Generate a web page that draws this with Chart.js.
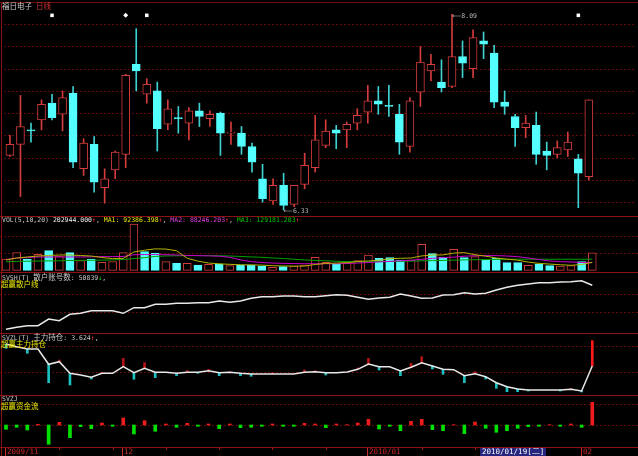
<!DOCTYPE html>
<html>
<head>
<meta charset="utf-8">
<title>福日电子 日线</title>
<script src="https://cdn.jsdelivr.net/npm/chart.js@4.4.1/dist/chart.umd.min.js"></script>
<style>
  html, body { margin: 0; padding: 0; background: #000; }
  #wrap { position: relative; width: 638px; height: 456px; overflow: hidden; background: #000; }
  #wrap canvas { position: absolute; left: 0; }
  .t { position: absolute; white-space: nowrap; font-family: "DejaVu Sans Mono", monospace; font-size: 6.5px; line-height: 8px; color: #c8c8c8; }
  .cn { font-family: "Noto Sans CJK SC", sans-serif; font-size: 7.5px; }
  .wh { color: #ececec; }
  .yl { color: #e6e600; }
  .mg { color: #e040e0; }
  .gr { color: #00c800; }
  .up { color: #ff3030; }
  .dn { color: #00ee00; }
  .sep { position: absolute; left: 0; width: 638px; height: 1px; background: #8a1212; }
  .date { color: #c82828; font-size: 7.5px; border-left: 1px solid #c82828; padding-left: 1px; }
  .cur { color: #fff; font-size: 7.5px; background: #25257e; padding: 0 2px; }
  .note { color: #b4b4b4; }
</style>
</head>
<body>
<div id="wrap">
  <canvas id="cMain" width="638" height="217" style="top:0"></canvas>
  <canvas id="cVol" width="638" height="56" style="top:217px"></canvas>
  <canvas id="cSvsh" width="638" height="60" style="top:273px"></canvas>
  <canvas id="cSvzl" width="638" height="62" style="top:333px"></canvas>
  <canvas id="cSvzj" width="638" height="61" style="top:395px"></canvas>

  <div class="sep" style="top:2px;background:#6e0c0c"></div>
  <div class="sep" style="top:216px"></div>
  <div class="sep" style="top:272px"></div>
  <div class="sep" style="top:333px"></div>
  <div class="sep" style="top:395px"></div>
  <div class="sep" style="top:447px"></div>
  <div style="position:absolute;left:1px;top:2px;width:1px;height:454px;background:#8a1212"></div>

  <div class="t" style="left:2px;top:2px"><span class="cn">福日电子</span> <span class="cn up" style="color:#d03030">日线</span></div>
  <div class="t" id="hVol" style="left:2px;top:216px"></div>
  <div class="t" id="hSvsh" style="left:2px;top:273px"></div>
  <div class="t yl" style="left:1px;top:280px"><span class="cn">超赢散户线</span></div>
  <div class="t" id="hSvzl" style="left:2px;top:332.5px"></div>
  <div class="t yl" style="left:1px;top:340px"><span class="cn">超赢主力持仓</span></div>
  <div class="t" style="left:2px;top:394.5px">SVZJ</div>
  <div class="t yl" style="left:1px;top:401.5px"><span class="cn">超赢资金流</span></div>
  <div class="t cur" style="left:480px;top:448px">2010/01/19[二]</div>
</div>

<script>
// ===== Data (daily, 2009/11 .. 2010/02) =====
const open  = [6.82, 6.92, 7.05, 7.14, 7.29, 7.19, 7.38, 6.70, 6.92, 6.53,
               6.69, 6.83, 7.64, 7.37, 7.40, 7.10, 7.16, 7.11, 7.22, 7.15,
               7.20, 7.02, 7.02, 6.90, 6.61, 6.41, 6.55, 6.38, 6.56, 6.71,
               6.91, 7.05, 7.05, 7.11, 7.21, 7.31, 7.27, 7.19, 6.90, 7.39,
               7.58, 7.48, 7.44, 7.71, 7.60, 7.85, 7.74, 7.30, 7.17, 7.07,
               7.09, 6.86, 6.83, 6.87, 6.79, 6.63];
const high  = [7.00, 7.36, 7.11, 7.32, 7.37, 7.40, 7.44, 6.97, 6.99, 6.70,
               6.86, 7.55, 7.96, 7.51, 7.48, 7.32, 7.26, 7.25, 7.29, 7.22,
               7.21, 7.12, 7.08, 6.93, 6.74, 6.61, 6.66, 6.55, 6.84, 7.18,
               7.14, 7.09, 7.12, 7.24, 7.45, 7.44, 7.45, 7.28, 7.34, 7.80,
               7.73, 7.68, 8.09, 7.85, 7.95, 7.93, 7.81, 7.40, 7.19, 7.18,
               7.21, 6.94, 6.95, 7.03, 6.83, 7.32];
const low   = [6.81, 6.45, 6.94, 7.05, 7.14, 7.04, 6.71, 6.64, 6.49, 6.39,
               6.61, 6.71, 7.40, 7.29, 6.86, 7.05, 7.02, 6.96, 7.08, 7.08,
               6.82, 6.92, 6.83, 6.67, 6.40, 6.38, 6.33, 6.36, 6.52, 6.67,
               6.89, 6.88, 6.89, 7.05, 7.11, 7.19, 7.17, 6.83, 6.85, 7.26,
               7.49, 7.39, 7.43, 7.52, 7.52, 7.69, 7.25, 7.19, 6.90, 6.98,
               6.74, 6.69, 6.80, 6.81, 6.35, 6.60];
const close = [6.92, 7.08, 7.04, 7.28, 7.16, 7.34, 6.76, 6.93, 6.58, 6.61,
               6.85, 7.54, 7.58, 7.46, 7.06, 7.24, 7.15, 7.22, 7.17, 7.19,
               7.02, 7.03, 6.90, 6.76, 6.43, 6.55, 6.37, 6.55, 6.73, 6.96,
               7.04, 7.02, 7.10, 7.18, 7.31, 7.28, 7.26, 6.94, 7.31, 7.66,
               7.64, 7.43, 7.71, 7.65, 7.88, 7.82, 7.30, 7.26, 7.07, 7.11,
               6.83, 6.82, 6.89, 6.94, 6.66, 7.32];

const volume = [130600, 203500, 130600, 185000, 226600, 165300, 203500, 111000, 130600, 92500,
                99400, 203500, 535200, 215000, 196500, 99400, 80900, 80900, 61300, 69400,
                72800, 53200, 61300, 61300, 49700, 34700, 41600, 49700, 61300, 150300,
                92500, 69400, 80900, 111000, 176900, 138700, 145700, 119100, 119100, 300600,
                191900, 150300, 242800, 145700, 157200, 119100, 138700, 87900, 87900, 57800,
                72800, 53200, 49700, 53200, 99400, 202944];
const volMa1 = [119000, 142000, 154000, 165000, 171000, 177000, 177000, 171000, 165000, 148000,
                135000, 138000, 212000, 232000, 248000, 245000, 226000, 139000, 106000, 84000,
                75000, 69000, 64000, 63000, 60000, 53000, 50000, 48000, 49000, 67000,
                79000, 84000, 89000, 102000, 108000, 117000, 133000, 139000, 142000, 166000,
                176000, 178000, 199000, 204000, 180000, 163000, 142000, 129000, 117000, 95000,
                80000, 72000, 64000, 58000, 66000, 92386.398];
const volMa2 = [125000, 142000, 148000, 154000, 154000, 154000, 154000, 154000, 156000, 158000,
                158000, 160000, 180000, 182000, 182000, 180000, 177000, 172000, 170000, 167000,
                163000, 150000, 120000, 100000, 90000, 84000, 80000, 78000, 76000, 76000,
                76000, 76000, 80000, 84000, 90000, 97000, 103000, 110000, 116000, 127000,
                139000, 146000, 152000, 163000, 168000, 170000, 170000, 165000, 158000, 142000,
                125000, 108000, 100000, 96000, 90000, 88246.203];
const volMa3 = [99000, 103000, 105000, 107000, 109000, 110000, 113000, 115000, 116000, 118000,
                120000, 125000, 135000, 146000, 160000, 166000, 168000, 170000, 170000, 170000,
                168000, 165000, 160000, 155000, 150000, 143000, 136000, 128000, 120000, 114000,
                110000, 105000, 100000, 98000, 98000, 100000, 102000, 104000, 106000, 110000,
                112000, 114000, 118000, 120000, 122000, 124000, 126000, 127000, 128000, 128000,
                128000, 128000, 128000, 128000, 128000, 129181.203];

const svsh = [42039, 42439, 42759, 42759, 44099, 43759, 45039, 45239, 45759, 45759,
              45759, 45239, 46359, 46359, 47039, 47039, 47239, 47239, 47359, 47359,
              47699, 47439, 47699, 48239, 48559, 48559, 48699, 48699, 48559, 48559,
              48759, 48959, 48839, 48439, 48039, 48299, 48439, 49099, 48699, 48239,
              48299, 48899, 48959, 49359, 49099, 49239, 49899, 50439, 50839, 51099,
              51359, 51359, 51499, 51559, 51759, 50839];
const svzl = [4.724, 4.589, 4.474, 4.474, 3.709, 3.839, 3.259, 3.174, 3.059, 3.259,
              3.259, 3.589, 3.289, 3.509, 3.309, 3.309, 3.259, 3.309, 3.309, 3.389,
              3.289, 3.309, 3.259, 3.224, 3.224, 3.224, 3.224, 3.224, 3.309, 3.339,
              3.289, 3.289, 3.324, 3.459, 3.724, 3.589, 3.589, 3.374, 3.559, 3.789,
              3.624, 3.459, 3.439, 3.139, 3.239, 3.089, 2.789, 2.589, 2.474, 2.424,
              2.424, 2.424, 2.424, 2.459, 2.374, 3.624];
const svzlTip = [4.509, null, 4.259, null, 2.789, 3.924, 2.674, null, 2.974, 3.31,
                 null, 4.009, 2.959, 3.789, 3.039, null, 3.139, 3.389, 3.259, 3.459,
                 3.139, 3.339, 3.139, 3.109, null, 3.289, null, null, 3.424, 3.389,
                 3.174, null, null, 3.524, 4.009, 3.424, null, 3.139, 3.759, 4.089,
                 3.474, 3.209, null, 2.789, 3.339, 2.974, 2.509, 2.339, 2.339, 2.374,
                 null, null, 2.374, 2.509, 2.324, 4.889];
const svzj = [-4.3, -2.3, -5, 0.7, -19.3, 2.7, -12.7, -1.7, -3.7, 2,
              -1.3, 7, -9, 4.3, -6.3, 1, -2.3, 1.7, -1.3, 1,
              -3.7, 1, -2.7, -2.3, -1.3, 1, -1.3, -1.3, 1.7, 1,
              -2.7, 1, 0.3, 2, 5.7, -4, -1.3, -5.7, 3.7, 5.7,
              -4.7, -5.7, 0.3, -8.7, 3, -3.3, -7.3, -5.7, -3.3, -1.7,
              -1.3, 0.3, -1.3, 1, -2.3, 22.7];

const priceTicks = [8.0, 7.8, 7.6, 7.4, 7.2, 7.0, 6.8, 6.6, 6.4];
const volTicks = [200000, 400000];
const svshTicks = [49099, 45559];
const svzlTicks = [4.639, 3.324];
const svzjTicks = [20.7, 0];

const markIdx = [4, 11, 13, 54];           // signal markers on top
const dateIdx = [0, 11, 34, 54];
const dateText = ["2009/11", "12", "2010/01", "02"];
const minorIdx = [5, 10, 15, 20, 25, 30, 39, 44, 49];

// ===== Styles =====
const RED = "#d23c3c";
const CYAN = "#54ffff";
const WICK_DN = "#3fd0d0";
const X_MIN = -0.563, X_MAX = 59.29;

const dotGrid = {
  id: "dotGrid",
  beforeDatasetsDraw(chart, args, opts) {
    const { ctx, chartArea, scales } = chart;
    ctx.save();
    ctx.strokeStyle = "#640808";
    ctx.lineWidth = 1;
    ctx.setLineDash([2, 2]);
    for (const v of opts.values || []) {
      const y = Math.round(scales.y.getPixelForValue(v)) + 0.5;
      ctx.beginPath();
      ctx.moveTo(chartArea.left, y);
      ctx.lineTo(chartArea.right, y);
      ctx.stroke();
    }
    ctx.restore();
  }
};

const dateTicks = {
  id: "dateTicks",
  afterDraw(chart) {
    const { ctx, scales } = chart;
    const top = chart.height - 9;
    ctx.save();
    ctx.strokeStyle = "#a01818";
    ctx.lineWidth = 1;
    for (const i of minorIdx) {
      const x = Math.round(scales.x.getPixelForValue(i)) + 0.5;
      ctx.beginPath();
      ctx.moveTo(x, top);
      ctx.lineTo(x, top + 3);
      ctx.stroke();
    }
    ctx.restore();
  }
};

function makePanel(id, yMin, yMax, gridValues, datasets, extra = []) {
  return new Chart(document.getElementById(id), {
    type: "bar",
    data: { datasets },
    options: {
      responsive: false,
      animation: false,
      events: [],
      layout: { padding: 0 },
      plugins: {
        legend: { display: false },
        tooltip: { enabled: false },
        dotGrid: { values: gridValues }
      },
      scales: {
        x: { type: "linear", display: false, min: X_MIN, max: X_MAX, offset: false, bounds: "data" },
        y: { type: "linear", display: false, min: yMin, max: yMax, bounds: "data" }
      }
    },
    plugins: [dotGrid, ...extra]
  });
}

const idx = open.map((_, i) => i);
const candleUp = idx.map(i => close[i] >= open[i]);
const volUp = idx.map(i => i === 0 || close[i] >= close[i - 1]);

// ===== Main (K line) =====
const main = makePanel("cMain", 6.3022, 8.1819, priceTicks, [
  {
    type: "line",
    data: markIdx.map(i => ({ x: i, y: 8.08 })),
    showLine: false,
    pointRadius: 2.5,
    pointStyle: markIdx.map(i => (i === 11 ? "rectRot" : "rect")),
    pointBackgroundColor: "#ffffff",
    pointBorderWidth: 0
  },
  {
    data: idx.map(i => ({ x: i, y: [open[i], close[i]] })),
    grouped: false,
    barThickness: 8,
    borderWidth: 1,
    borderSkipped: false,
    backgroundColor: candleUp.map(u => (u ? "#000000" : CYAN)),
    borderColor: candleUp.map(u => (u ? RED : CYAN))
  },
  {
    data: idx.map(i => ({ x: i, y: [low[i], high[i]] })),
    grouped: false,
    barThickness: 1,
    borderWidth: 0,
    backgroundColor: candleUp.map(u => (u ? RED : WICK_DN))
  }
]);

// ===== Volume =====
const vol = makePanel("cVol", -31212, 616148, volTicks, [
  { type: "line", data: idx.map(i => ({ x: i, y: volMa1[i] })), borderColor: "#b4b400", borderWidth: 1, pointRadius: 0 },
  { type: "line", data: idx.map(i => ({ x: i, y: volMa2[i] })), borderColor: "#c800c8", borderWidth: 1, pointRadius: 0 },
  { type: "line", data: idx.map(i => ({ x: i, y: volMa3[i] })), borderColor: "#00a000", borderWidth: 1, pointRadius: 0 },
  {
    data: idx.map(i => ({ x: i, y: volume[i] })),
    grouped: false,
    barThickness: 8,
    borderWidth: 1,
    borderSkipped: false,
    backgroundColor: volUp.map(u => (u ? "#000000" : CYAN)),
    borderColor: volUp.map(u => (u ? RED : CYAN))
  }
]);

// ===== SVSH =====
makePanel("cSvsh", 41299, 53299, svshTicks, [
  { type: "line", data: idx.map(i => ({ x: i, y: svsh[i] })), borderColor: "#e8e8e8", borderWidth: 1.5, pointRadius: 0 }
]);

// ===== SVZL =====
const tipIdx = idx.filter(i => svzlTip[i] !== null);
makePanel("cSvzl", 2.174, 5.274, svzlTicks, [
  { type: "line", data: idx.map(i => ({ x: i, y: svzl[i] })), borderColor: "#e8e8e8", borderWidth: 1.5, pointRadius: 0 },
  {
    data: tipIdx.map(i => ({ x: i, y: [svzl[i], svzlTip[i]] })),
    grouped: false,
    barThickness: 2,
    borderWidth: 0,
    backgroundColor: tipIdx.map(i => {
      const d = svzlTip[i] - svzl[i];
      return d > 0.5 ? "#ff1a1a" : d > 0 ? "#b01414" : "#1cc0c0";
    })
  }
]);

// ===== SVZJ =====
makePanel("cSvzj", -31, 30, svzjTicks, [
  {
    data: idx.map(i => ({ x: i, y: svzj[i] })),
    grouped: false,
    barThickness: 3,
    borderWidth: 0,
    backgroundColor: svzj.map(v => (v >= 0 ? "#ee1c1c" : "#00e000"))
  }
], [dateTicks]);

// ===== Texts =====
const wrap = document.getElementById("wrap");
const last = a => a[a.length - 1];

document.getElementById("hVol").innerHTML =
  `VOL(5,10,20) <span class="wh">${last(volume).toFixed(3)}</span><span class="up">↑</span>, ` +
  `<span class="yl">MA1: ${last(volMa1).toFixed(3)}</span><span class="up">↑</span>, ` +
  `<span class="mg">MA2: ${last(volMa2).toFixed(3)}</span><span class="up">↑</span>, ` +
  `<span class="gr">MA3: ${last(volMa3).toFixed(3)}</span><span class="up">↑</span>`;
document.getElementById("hSvsh").innerHTML =
  `SVSH(T) <span class="cn">散户账号数</span>: ${last(svsh)}<span class="dn">↓</span>,`;
document.getElementById("hSvzl").innerHTML =
  `SVZL(T) <span class="cn">主力持仓</span>: ${last(svzl).toFixed(3)}<span class="up">↑</span>,`;

function addText(cls, html, left, top) {
  const el = document.createElement("div");
  el.className = "t " + cls;
  el.style.left = left + "px";
  el.style.top = top + "px";
  el.innerHTML = html;
  wrap.appendChild(el);
}

// high / low notes
const hiI = high.indexOf(Math.max(...high));
const loI = low.indexOf(Math.min(...low));
addText("note", `<span style="font-family:'DejaVu Sans'">⟵</span>${high[hiI].toFixed(2)}`,
  main.scales.x.getPixelForValue(hiI), main.scales.y.getPixelForValue(high[hiI]) - 2);
addText("note", `<span style="font-family:'DejaVu Sans'">⟵</span>${low[loI].toFixed(2)}`,
  main.scales.x.getPixelForValue(loI), main.scales.y.getPixelForValue(low[loI]) - 3);

// date axis
dateIdx.forEach((d, k) => {
  addText("date", dateText[k], Math.round(vol.scales.x.getPixelForValue(d)) - 1, 448);
});
</script>
</body>
</html>
